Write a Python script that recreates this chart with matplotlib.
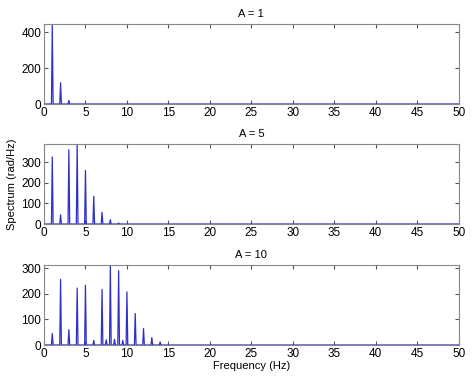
import numpy as np
import matplotlib
matplotlib.use("Agg")
import matplotlib.pyplot as plt

plt.rcParams['font.family'] = ['Liberation Sans', 'DejaVu Sans']

titles = ["A = 1", "A = 5", "A = 10"]
freqs_a1 = [1, 2, 3]
amps_a1 = [440, 118, 20]
freqs_a5 = [1, 2, 3, 4, 5, 6, 7, 8, 9]
amps_a5 = [327, 45, 362, 390, 261, 135, 57, 21, 5]
freqs_a10 = [1, 2, 3, 4, 5, 6, 7, 7.5, 8, 8.5, 9, 9.5, 10, 11, 12, 13, 14]
amps_a10 = [45, 256, 60, 222, 233, 18, 217, 20, 312, 22, 290, 18, 207, 123, 64, 29, 12]
ylims = [445, 390, 312]
yticks = [[0, 200, 400], [0, 100, 200, 300], [0, 100, 200, 300]]
xticks = list(range(0, 55, 5))

series = [(freqs_a1, amps_a1), (freqs_a5, amps_a5), (freqs_a10, amps_a10)]

fig = plt.figure(figsize=(4.74, 3.8), dpi=100)
bottoms = [0.7263, 0.4105, 0.0921]
for i, (fr, am) in enumerate(series):
    ax = fig.add_axes([0.0928, bottoms[i], 0.875, 0.2105])
    xs = [0.0]
    ys = [0.0]
    w = 0.1
    for f, a in zip(fr, am):
        xs += [f - w, f, f + w]
        ys += [0.0, a, 0.0]
    xs.append(50.0)
    ys.append(0.0)
    ax.plot(xs, ys, color='#3030c8', lw=0.9)
    ax.set_xlim(0, 50)
    ax.set_ylim(0, ylims[i])
    ax.set_xticks(xticks)
    ax.set_yticks(yticks[i])
    ax.tick_params(direction='in', length=3, labelsize=8.5, top=True, right=True,
                   color='#555555', pad=2)
    for s in ax.spines.values():
        s.set_color('#888888')
        s.set_linewidth(0.8)
    ax.set_title(titles[i], fontsize=8, pad=5)
    if i == 1:
        ax.set_ylabel("Spectrum (rad/Hz)", fontsize=8, labelpad=3)
    if i == 2:
        ax.set_xlabel("Frequency (Hz)", fontsize=8, labelpad=1)

fig.savefig("out.png", dpi=100)
